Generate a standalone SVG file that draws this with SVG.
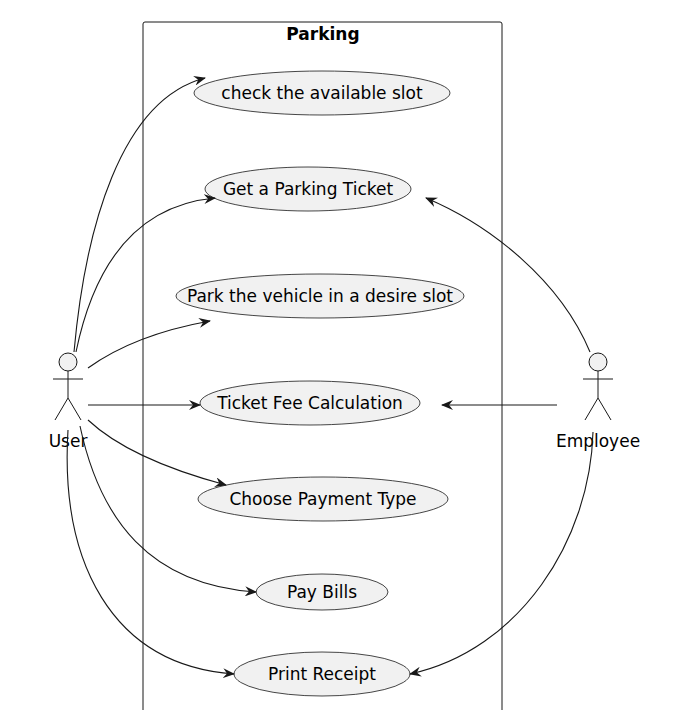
<svg xmlns="http://www.w3.org/2000/svg" width="680" height="710" viewBox="0 0 680 710">
<style>
text{font-family:"DejaVu Sans","Liberation Sans",sans-serif;font-size:17px;fill:#000}
.uc ellipse{fill:#f1f1f1;stroke:#181818;stroke-width:0.8}
.act{fill:#f1f1f1;stroke:#181818;stroke-width:1}
.c path{fill:none;stroke:#181818;stroke-width:1.1}
</style>
<defs><marker id="a" viewBox="0 0 12 10" refX="11" refY="5" markerWidth="12" markerHeight="10" markerUnits="userSpaceOnUse" orient="auto"><path d="M0,0 L12,5 L0,10 L4,5 Z" fill="#181818"/></marker></defs>
<rect width="680" height="710" fill="#fff"/>
<g id="parking"><rect x="143" y="22" width="359" height="700" rx="2" fill="none" stroke="#181818" stroke-width="1"/><text x="323" y="40" text-anchor="middle" font-weight="bold" font-size="16">Parking</text></g>
<g id="uc1" class="uc"><ellipse cx="322" cy="93" rx="128" ry="22"/><text x="322" y="99" text-anchor="middle">check the available slot</text></g>
<g id="uc2" class="uc"><ellipse cx="308" cy="189" rx="103" ry="22"/><text x="308" y="195" text-anchor="middle">Get a Parking Ticket</text></g>
<g id="uc3" class="uc"><ellipse cx="320" cy="296" rx="144" ry="22"/><text x="320" y="302" text-anchor="middle">Park the vehicle in a desire slot</text></g>
<g id="uc4" class="uc"><ellipse cx="310" cy="403" rx="110" ry="22"/><text x="310" y="409" text-anchor="middle">Ticket Fee Calculation</text></g>
<g id="uc5" class="uc"><ellipse cx="323" cy="499" rx="125" ry="22"/><text x="323" y="505" text-anchor="middle">Choose Payment Type</text></g>
<g id="uc6" class="uc"><ellipse cx="322" cy="592" rx="66" ry="18"/><text x="322" y="598" text-anchor="middle">Pay Bills</text></g>
<g id="uc7" class="uc"><ellipse cx="322" cy="674" rx="88" ry="22"/><text x="322" y="680" text-anchor="middle">Print Receipt</text></g>
<g id="user" class="act"><circle cx="68" cy="362" r="9"/><path d="M68,371 V398 M53,379 H83 M68,398 L55,420 M68,398 L81,420" fill="none"/><text x="68" y="447" text-anchor="middle" stroke="none" fill="#000">User</text></g>
<g id="employee" class="act"><circle cx="598" cy="362" r="9"/><path d="M598,371 V398 M583,379 H613 M598,398 L585,420 M598,398 L611,420" fill="none"/><text x="598" y="447" text-anchor="middle" stroke="none" fill="#000">Employee</text></g>
<g id="connectors" class="c">
<path d="M74,352 C85,230 120,100 205,78" marker-end="url(#a)"/>
<path d="M76,352 C95,260 140,205 215,198" marker-end="url(#a)"/>
<path d="M88,368 C120,345 160,330 210,321" marker-end="url(#a)"/>
<path d="M88,405 H200" marker-end="url(#a)"/>
<path d="M88,420 C120,450 170,470 226,485" marker-end="url(#a)"/>
<path d="M80,426 C100,520 150,585 256,592" marker-end="url(#a)"/>
<path d="M68,430 C60,560 110,665 234,674" marker-end="url(#a)"/>
<path d="M590,352 C560,280 490,225 426,198" marker-end="url(#a)"/>
<path d="M557,405 H442" marker-end="url(#a)"/>
<path d="M593,432 C590,540 520,650 410,674" marker-end="url(#a)"/>
</g>
</svg>
